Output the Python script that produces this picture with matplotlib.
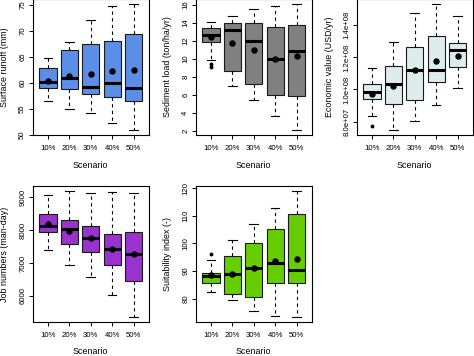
import matplotlib
matplotlib.use('Agg')
import matplotlib.pyplot as plt

plt.rcParams['font.family'] = ['Liberation Sans Narrow', 'Liberation Sans', 'DejaVu Sans']

scenarios = ['10%', '20%', '30%', '40%', '50%']

# Surface runoff (mm)
runoff_q1 = [59.0, 58.7, 57.8, 57.2, 56.4]
runoff_med = [60.2, 60.8, 59.1, 59.9, 58.9]
runoff_q3 = [62.8, 66.2, 67.4, 68.0, 69.3]
runoff_lo = [56.4, 55.0, 54.2, 52.2, 50.9]
runoff_hi = [64.7, 67.8, 72.1, 74.8, 75.1]
runoff_mean = [60.4, 61.3, 61.7, 62.2, 62.5]
runoff_out = [[], [], [], [], []]

# Sediment load (ton/ha/yr)
sed_q1 = [11.9, 8.6, 7.2, 6.0, 5.9]
sed_med = [12.7, 13.2, 12.0, 10.0, 10.9]
sed_q3 = [13.4, 14.0, 14.0, 13.5, 13.8]
sed_lo = [9.9, 7.0, 5.4, 3.7, 2.1]
sed_hi = [14.1, 14.8, 15.5, 15.9, 16.1]
sed_mean = [12.4, 11.8, 11.0, 10.0, 10.3]
sed_out = [[9.4, 9.1], [], [], [], []]

# Economic value (USD/yr)
econ_q1 = [9.4e7, 9.1e7, 9.35e7, 1.047e8, 1.139e8]
econ_med = [9.84e7, 1.036e8, 1.124e8, 1.12e8, 1.246e8]
econ_q3 = [1.036e8, 1.145e8, 1.264e8, 1.33e8, 1.287e8]
econ_lo = [8.33e7, 7.48e7, 8.04e7, 9.03e7, 1.01e8]
econ_hi = [1.135e8, 1.296e8, 1.474e8, 1.532e8, 1.455e8]
econ_mean = [9.72e7, 1.02e8, 1.124e8, 1.177e8, 1.21e8]
econ_out = [[7.73e7], [], [], [], []]

# Job numbers (man-day)
job_q1 = [7953, 7577, 7322, 6936, 6437]
job_med = [8136, 8035, 7760, 7424, 7272]
job_q3 = [8482, 8309, 8116, 7882, 7943]
job_lo = [7404, 6936, 6560, 6020, 5359]
job_hi = [9072, 9184, 9133, 9153, 9123]
job_mean = [8177, 7974, 7750, 7414, 7261]
job_out = [[], [], [], [], []]

# Suitability index (-)
suit_q1 = [85.7, 81.7, 80.5, 85.7, 85.7]
suit_med = [88.3, 88.9, 91.1, 92.9, 90.2]
suit_q3 = [89.1, 95.5, 100.1, 105.4, 110.6]
suit_lo = [82.4, 79.6, 75.5, 73.7, 73.3]
suit_hi = [94.0, 101.3, 107.1, 112.9, 119.0]
suit_mean = [88.5, 88.9, 91.2, 93.7, 94.4]
suit_out = [[96.0], [], [], [], []]

panels = [
    dict(q1=runoff_q1, med=runoff_med, q3=runoff_q3, lo=runoff_lo, hi=runoff_hi, mean=runoff_mean,
         out=runoff_out, color='#5b8ee6', ylabel='Surface runoff (mm)',
         yticks=[50, 55, 60, 65, 70, 75], fmt=lambda v: f'{v:g}'),
    dict(q1=sed_q1, med=sed_med, q3=sed_q3, lo=sed_lo, hi=sed_hi, mean=sed_mean,
         out=sed_out, color='#808080', ylabel='Sediment load (ton/ha/yr)',
         yticks=[2, 4, 6, 8, 10, 12, 14, 16], fmt=lambda v: f'{v:g}'),
    dict(q1=econ_q1, med=econ_med, q3=econ_q3, lo=econ_lo, hi=econ_hi, mean=econ_mean,
         out=econ_out, color='#ddecec', ylabel='Economic value (USD/yr)',
         yticks=[8e7, 1.0e8, 1.2e8, 1.4e8], fmt=lambda v: f'{v:.1e}'),
    dict(q1=job_q1, med=job_med, q3=job_q3, lo=job_lo, hi=job_hi, mean=job_mean,
         out=job_out, color='#9a32cd', ylabel='Job numbers (man-day)',
         yticks=[6000, 7000, 8000, 9000], fmt=lambda v: f'{v:g}'),
    dict(q1=suit_q1, med=suit_med, q3=suit_q3, lo=suit_lo, hi=suit_hi, mean=suit_mean,
         out=suit_out, color='#66cd00', ylabel='Suitability index (-)',
         yticks=[80, 90, 100, 110, 120], fmt=lambda v: f'{v:g}'),
]

W, H = 474, 356
fig = plt.figure(figsize=(W / 100, H / 100), dpi=100)
fig.patch.set_facecolor('white')

lefts = [33, 196, 357]
tops = [-1, 186]
aw, ah = 115.5, 136
slots = [(lefts[0], tops[0]), (lefts[1], tops[0]), (lefts[2], tops[0]),
         (lefts[0], tops[1]), (lefts[1], tops[1])]

for p, (lx, ty) in zip(panels, slots):
    ax = fig.add_axes([lx / W, 1 - (ty + ah) / H, aw / W, ah / H])
    stats = []
    for i in range(5):
        stats.append(dict(med=p['med'][i], q1=p['q1'][i], q3=p['q3'][i],
                          whislo=p['lo'][i], whishi=p['hi'][i], mean=p['mean'][i],
                          fliers=p['out'][i], label=scenarios[i]))
    ax.bxp(stats, positions=range(1, 6), widths=0.8, patch_artist=True, showmeans=True,
           manage_ticks=False,
           meanprops=dict(marker='o', markerfacecolor='black', markeredgecolor='black',
                          markersize=3.6, linestyle='none'),
           boxprops=dict(facecolor=p['color'], edgecolor='#1a1a1a', linewidth=0.8),
           medianprops=dict(color='black', linewidth=2.2, solid_capstyle='butt'),
           whiskerprops=dict(color='black', linewidth=0.8, linestyle=(0, (3, 3))),
           capprops=dict(color='black', linewidth=0.8),
           flierprops=dict(marker='o', markersize=1.8, markerfacecolor='black',
                           markeredgecolor='black', linestyle='none'))
    allv = p['lo'] + p['hi'] + [v for o in p['out'] for v in o]
    vmin, vmax = min(allv), max(allv)
    ext = 0.04 * (vmax - vmin)
    ax.set_ylim(vmin - ext, vmax + ext)
    ax.set_xlim(0.3, 5.7)
    ax.set_xticks(range(1, 6))
    ax.set_xticklabels(scenarios)
    ax.set_yticks(p['yticks'])
    ax.set_yticklabels([p['fmt'](v) for v in p['yticks']], rotation=90, va='center')
    ax.tick_params(axis='both', direction='out', length=2.9, width=0.7, labelsize=5.6,
                   colors='black')
    ax.tick_params(axis='x', pad=4.0)
    ax.tick_params(axis='y', pad=2.0)
    for s in ax.spines.values():
        s.set_linewidth(0.8)
        s.set_color('black')
    ax.set_xlabel('Scenario', fontsize=6.4)
    ax.xaxis.set_label_coords(0.5, -30 / ah)
    ax.xaxis.label.set_va('center')
    ax.set_ylabel(p['ylabel'], fontsize=6.4)
    ax.yaxis.set_label_coords(-28 / aw, 0.5)
    ax.yaxis.label.set_va('center')

fig.savefig('out.png', dpi=100, facecolor='white')
